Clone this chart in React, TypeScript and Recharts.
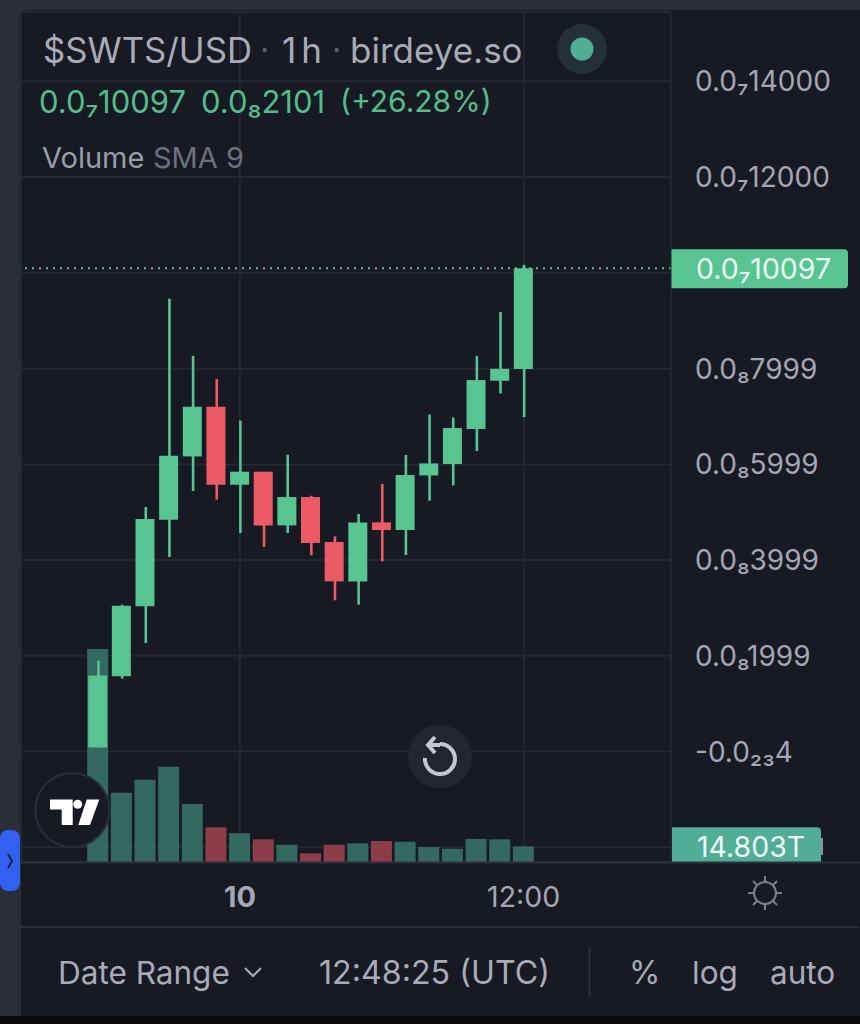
import React from "react";
import { Bar, CartesianGrid, Cell, ComposedChart, ReferenceLine, XAxis, YAxis } from "recharts";

const hours = ["18:00","19:00","20:00","21:00","22:00","23:00","10","01:00","02:00","03:00","04:00","05:00","06:00","07:00","08:00","09:00","10:00","11:00","12:00"];
const opens = [84,1572,3033,4843,6165,7203,5574,5846,4724,5317,4378,3555,4787,4628,5768,6006,6737,7745,7990];
const closes = [1587,3048,4858,6180,7203,5574,5846,4724,5317,4357,3555,4787,4628,5777,6019,6758,7760,7996,10097];
const highs = [1900,3069,5109,9457,8267,7781,6916,5846,6200,5344,4495,4962,5589,6194,7042,6979,8267,9180,10167];
const lows = [84,1524,2269,4065,5443,5261,4566,4273,4566,4098,3159,3069,3973,4106,5240,5559,6278,7480,6987];
const volumes = [201,65.3,77.6,89.9,54.7,32.7,27.1,21.4,16.3,8.2,16.3,17.6,19.8,19.1,14.1,12.5,21.7,21.4,14.803];
const xTicks = ["10","12:00"];
const yTicks = [14000,12000,10000,7999,5999,3999,1999,0,-2000];
const yLabels = ["0.0₇14000","0.0₇12000","","0.0₈7999","0.0₈5999","0.0₈3999","0.0₈1999","-0.0₂₃4",""];

const rows = hours.map((hour, i) => ({
  hour,
  wick: [lows[i], highs[i]],
  body: [Math.min(opens[i], closes[i]), Math.max(opens[i], closes[i])],
  volume: volumes[i],
  up: closes[i] >= opens[i],
}));

const FONT = "Inter, sans-serif";
const GREEN = "#58c492";
const RED = "#ec5b65";
const VOL_GREEN = "#33695f";
const VOL_RED = "#8c3d49";
const GRID = "#252731";
const PANEL = "#171923";
const AXIS_TEXT = "#a4a7b3";

const padding = { left: 65.2, right: 135.5 };

function XTick(props: any) {
  const { x, y, payload } = props;
  const bold = payload.value === "10";
  return (
    <text x={x} y={y - 2} textAnchor="middle" dominantBaseline="central" fontFamily={FONT} fontSize={bold ? 29 : 28.5}
      fontWeight={bold ? 700 : 400} fill={AXIS_TEXT}>{payload.value}</text>
  );
}

function PriceBadge(props: any) {
  const { viewBox } = props;
  const x = viewBox.x + viewBox.width;
  const y = viewBox.y;
  return (
    <g>
      <path d={`M${x} ${y - 19} H${x + 173} a4 4 0 0 1 4 4 V${y + 16} a4 4 0 0 1 -4 4 H${x} Z`} fill={GREEN} />
      <text x={x + 25} y={y} dominantBaseline="central" fontFamily={FONT} fontSize={28.5} fill="#eafff5">0.0₇10097</text>
    </g>
  );
}

function VolumeBadge(props: any) {
  const { viewBox } = props;
  const x = viewBox.x + viewBox.width;
  const y = viewBox.y;
  return (
    <g>
      <path d={`M${x + 1} ${y - 19} H${x + 146} a4 4 0 0 1 4 4 V${y + 16} H${x + 1} Z`} fill="#52ad97" />
      <text x={x + 26} y={y} dominantBaseline="central" fontFamily={FONT} fontSize={28.5} fill="#eefcf7">14.803T</text>
    </g>
  );
}

const label = (left: number, top: number, text: React.ReactNode, size: number, color: string, spacing = 0): React.ReactNode => (
  <div style={{ position: "absolute", left, top, transform: "translateY(-50%)", fontFamily: FONT, fontSize: size, color, whiteSpace: "nowrap", lineHeight: 1, letterSpacing: spacing }}>
    {text}
  </div>
);

function Overlay() {
  return (
    <>
      {label(43, 50, "$SWTS/USD", 34.7, "#a9acb8")}
      {label(260, 50, "·", 32, "#5c5f6b")}
      {label(282, 50, "1h", 35, "#a9acb8", 5)}
      {label(332, 50, "·", 32, "#5c5f6b")}
      {label(350, 50, "birdeye.so", 35, "#a9acb8")}
      {label(39, 101, "0.0₇10097", 31, "#53bd8c")}
      {label(201, 101, "0.0₈2101", 31, "#53bd8c")}
      {label(340, 101, "(+26.28%)", 30, "#53bd8c")}
      {label(42, 157, "Volume", 29, "#9a9da9")}
      {label(153, 157, "SMA 9", 29, "#6d707c")}
      {label(58, 973, "Date Range", 31.5, "#a9acb8")}
      {label(319, 973, "12:48:25 (UTC)", 32.2, "#a9acb8")}
      {label(629, 973, "%", 32, "#a9acb8")}
      {label(692, 973, "log", 31.5, "#a9acb8")}
      {label(770, 973, "auto", 31.5, "#a9acb8")}
      <svg width={860} height={1024} style={{ position: "absolute", left: 0, top: 0, pointerEvents: "none" }}>
        <line x1={21} x2={860} y1={862.5} y2={862.5} stroke="#2d303a" strokeWidth={2} />
        <line x1={21} x2={858} y1={927} y2={927} stroke="#2d303a" strokeWidth={2} />
        <line x1={589.5} x2={589.5} y1={947} y2={997} stroke="#2d303a" strokeWidth={2} />
        <line x1={822} x2={822} y1={838} y2={855} stroke="#8f929d" strokeWidth={2} />
        <circle cx={582} cy={49} r={25} fill="#233037" />
        <circle cx={582} cy={49} r={11.5} fill="#4fae94" />
        <path d="M245 968 L253 976 L261 968" fill="none" stroke="#a9acb8" strokeWidth={2} />
        <circle cx={72.3} cy={810} r={37} fill={PANEL} stroke="#2b2e38" strokeWidth={2} />
        <path d="M50 799.5 H72.7 V825 H61.7 V809.5 H50 Z" fill="#fff" />
        <circle cx={77.7} cy={804.3} r={4.5} fill="#fff" />
        <path d="M86.7 799.5 H99.3 L90 825 H78.3 Z" fill="#fff" />
        <circle cx={440} cy={756.5} r={32} fill="#22242e" />
        <path d="M440 744 A15 15 0 1 1 425 758" fill="none" stroke="#c5c7cf" strokeWidth={4} />
        <path d="M435 737 L428 745 L435 753 M428 745 H440" fill="none" stroke="#c5c7cf" strokeWidth={4} />
        <rect x={0} y={830} width={20} height={61} rx={8} fill="#3260f0" />
        <path d="M8 854 L12 861 L8 868" fill="none" stroke="#14203f" strokeWidth={2} />
        <g stroke="#7d808b" strokeWidth={2} fill="none">
          <circle cx={765} cy={893} r={11} />
          <path d="M765 876 V882 M765 904 V910 M748 893 H754 M776 893 H782 M753 881 L757 885 M773 901 L777 905 M777 881 L773 885 M757 901 L753 905" />
        </g>
      </svg>
    </>
  );
}

export default function App() {
  return (
    <div style={{ position: "absolute", left: 0, top: 0, width: 860, height: 1024, background: "#0a0808", overflow: "hidden" }}>
      <div style={{ position: "absolute", left: 0, top: 0, width: 860, height: 1016, background: "#2b2d38" }} />
      <div style={{ position: "absolute", left: 21, top: 10, width: 839, height: 1006, background: PANEL, borderTopLeftRadius: 8 }} />
      <div style={{ position: "absolute", left: 0, top: 0 }}>
        <ComposedChart width={860} height={1024} data={rows} margin={{ top: 12, left: 21, right: 0, bottom: 97 }}>
          <CartesianGrid xAxisId="main" yAxisId="price" stroke={GRID} strokeWidth={2} />
          <XAxis xAxisId="main" dataKey="hour" height={65} padding={padding} ticks={xTicks} interval={0}
            axisLine={false} tickLine={false} tick={<XTick />} tickMargin={0} />
          <XAxis xAxisId="vol" dataKey="hour" hide padding={padding} />
          <XAxis xAxisId="wick" dataKey="hour" hide padding={padding} />
          <XAxis xAxisId="body" dataKey="hour" hide padding={padding} />
          <YAxis yAxisId="price" orientation="right" width={189} domain={[-2307, 15449]} allowDataOverflow
            ticks={yTicks} interval={0} axisLine={{ stroke: "#20222c" }} tickLine={false} tickMargin={18}
            tick={{ fontFamily: FONT, fontSize: 28, fill: AXIS_TEXT, textAnchor: "start" }}
            tickFormatter={(v: number) => yLabels[yTicks.indexOf(v)]} />
          <YAxis yAxisId="volume" hide domain={[0, 802]} allowDataOverflow />
          <Bar xAxisId="vol" yAxisId="volume" dataKey="volume" barSize={21} isAnimationActive={false}>
            {rows.map((r) => <Cell key={r.hour} fill={r.up ? VOL_GREEN : VOL_RED} />)}
          </Bar>
          <Bar xAxisId="wick" yAxisId="price" dataKey="wick" barSize={2.6} isAnimationActive={false}>
            {rows.map((r) => <Cell key={r.hour} fill={r.up ? GREEN : RED} />)}
          </Bar>
          <Bar xAxisId="body" yAxisId="price" dataKey="body" barSize={19} isAnimationActive={false}>
            {rows.map((r) => <Cell key={r.hour} fill={r.up ? GREEN : RED} />)}
          </Bar>
          <ReferenceLine xAxisId="main" yAxisId="price" y={closes[closes.length - 1]} stroke={GREEN} strokeWidth={2}
            strokeDasharray="2 5" label={<PriceBadge />} />
          <ReferenceLine xAxisId="main" yAxisId="volume" y={volumes[volumes.length - 1]} stroke="none" label={<VolumeBadge />} />
        </ComposedChart>
      </div>
      <Overlay />
    </div>
  );
}
